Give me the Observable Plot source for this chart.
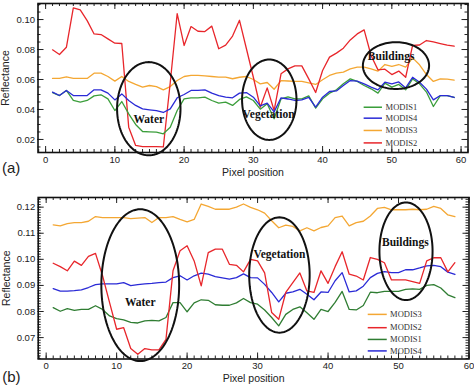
<!DOCTYPE html>
<html><head><meta charset="utf-8">
<script src="https://cdn.jsdelivr.net/npm/d3@7"></script>
<script src="https://cdn.jsdelivr.net/npm/@observablehq/plot@0.6"></script>
<style>
body{margin:0;background:#fff;}
#chart{width:474px;height:385px;overflow:hidden;}
#chart svg{display:block;}
</style></head><body><div id="chart"></div>
<script>
// ---------- DATA ----------
const pixelsA = d3.range(1, 60);   // pixel positions 1..59 (panel a)
const pixelsB = d3.range(1, 59);   // pixel positions 1..58 (panel b)

const modis1A = [0.0513,0.0493,0.0527,0.0460,0.0449,0.0460,0.0491,0.0498,0.0471,0.0393,0.0453,0.0371,0.0300,0.0253,0.0251,0.0249,0.0238,0.0282,0.0393,0.0471,0.0478,0.0478,0.0482,0.0460,0.0442,0.0449,0.0427,0.0467,0.0484,0.0460,0.0402,0.0438,0.0338,0.0471,0.0484,0.0471,0.0471,0.0491,0.0409,0.0471,0.0509,0.0531,0.0571,0.0604,0.0587,0.0560,0.0538,0.0509,0.0576,0.0549,0.0567,0.0531,0.0604,0.0571,0.0516,0.0420,0.0493,0.0493,0.0480];
const modis2A = [0.0798,0.0767,0.0815,0.1078,0.1065,0.0993,0.0904,0.0900,0.0871,0.0842,0.0840,0.0282,0.0160,0.0152,0.0152,0.0152,0.0150,0.0580,0.1040,0.0827,0.0953,0.0922,0.0920,0.0956,0.0805,0.0829,0.0890,0.0995,0.0805,0.0615,0.0415,0.0544,0.0393,0.0638,0.0671,0.0691,0.0691,0.0604,0.0513,0.0660,0.0749,0.0776,0.0809,0.0864,0.0904,0.0931,0.0760,0.0664,0.0669,0.0633,0.0656,0.0615,0.0827,0.0830,0.0860,0.0851,0.0840,0.0830,0.0822];
const modis3A = [0.0607,0.0607,0.0618,0.0607,0.0607,0.0607,0.0642,0.0642,0.0620,0.0589,0.0620,0.0587,0.0567,0.0549,0.0560,0.0553,0.0531,0.0553,0.0593,0.0620,0.0627,0.0627,0.0624,0.0620,0.0616,0.0616,0.0605,0.0615,0.0620,0.0600,0.0571,0.0580,0.0535,0.0593,0.0590,0.0587,0.0587,0.0578,0.0567,0.0598,0.0627,0.0642,0.0649,0.0671,0.0682,0.0682,0.0671,0.0656,0.0700,0.0687,0.0700,0.0682,0.0744,0.0698,0.0633,0.0587,0.0604,0.0602,0.0596];
const modis4A = [0.0516,0.0493,0.0527,0.0493,0.0493,0.0493,0.0531,0.0531,0.0509,0.0464,0.0504,0.0460,0.0427,0.0404,0.0398,0.0393,0.0380,0.0404,0.0478,0.0500,0.0527,0.0527,0.0531,0.0509,0.0493,0.0482,0.0478,0.0509,0.0513,0.0482,0.0424,0.0442,0.0384,0.0478,0.0470,0.0460,0.0464,0.0480,0.0416,0.0482,0.0520,0.0524,0.0560,0.0593,0.0589,0.0571,0.0549,0.0531,0.0582,0.0571,0.0584,0.0544,0.0615,0.0582,0.0536,0.0464,0.0493,0.0493,0.0480];

const modis1B = [0.0815,0.0801,0.0811,0.0804,0.0808,0.0808,0.0822,0.0808,0.0783,0.0773,0.0768,0.0758,0.0756,0.0764,0.0766,0.0764,0.0777,0.0834,0.0834,0.0799,0.0833,0.0845,0.0843,0.0826,0.0824,0.0824,0.0833,0.0850,0.0834,0.0828,0.0806,0.0777,0.0745,0.0789,0.0808,0.0818,0.0795,0.0770,0.0808,0.0800,0.0835,0.0877,0.0808,0.0806,0.0823,0.0874,0.0872,0.0877,0.0877,0.0877,0.0885,0.0887,0.0885,0.0900,0.0903,0.0890,0.0864,0.0853];
const modis2B = [0.0985,0.0972,0.0956,0.0993,0.0977,0.1011,0.1023,0.0937,0.0834,0.0732,0.0738,0.0658,0.0636,0.0658,0.0653,0.0653,0.0693,0.0956,0.1033,0.1052,0.0994,0.0898,0.1026,0.1039,0.1039,0.0981,0.0977,0.0952,0.1000,0.0994,0.0948,0.0796,0.0770,0.0873,0.0911,0.0948,0.0879,0.0873,0.0956,0.0908,0.0972,0.1029,0.0943,0.0936,0.0921,0.1007,0.1000,0.0987,0.0921,0.0921,0.0921,0.0915,0.0908,0.0994,0.1006,0.1006,0.0952,0.0987];
const modis3B = [0.1132,0.1128,0.1137,0.1141,0.1141,0.1146,0.1164,0.1160,0.1160,0.1160,0.1160,0.1156,0.1158,0.1160,0.1141,0.1160,0.1160,0.1164,0.1153,0.1144,0.1153,0.1212,0.1203,0.1192,0.1192,0.1192,0.1200,0.1212,0.1199,0.1190,0.1177,0.1148,0.1121,0.1131,0.1126,0.1109,0.1121,0.1109,0.1122,0.1128,0.1160,0.1166,0.1128,0.1141,0.1146,0.1166,0.1195,0.1199,0.1190,0.1190,0.1190,0.1192,0.1190,0.1192,0.1203,0.1195,0.1170,0.1164];
const modis4B = [0.0888,0.0878,0.0878,0.0880,0.0883,0.0892,0.0903,0.0906,0.0906,0.0906,0.0911,0.0899,0.0903,0.0906,0.0908,0.0911,0.0913,0.0930,0.0937,0.0921,0.0937,0.0947,0.0943,0.0934,0.0929,0.0924,0.0930,0.0944,0.0930,0.0929,0.0904,0.0873,0.0837,0.0870,0.0875,0.0885,0.0866,0.0845,0.0875,0.0873,0.0918,0.0949,0.0875,0.0879,0.0897,0.0930,0.0946,0.0953,0.0949,0.0949,0.0960,0.0960,0.0967,0.0975,0.0977,0.0972,0.0951,0.0942];

const xTicks = [0, 10, 20, 30, 40, 50, 60];
const yTicksA = [0.02, 0.04, 0.06, 0.08, 0.10];
const yTicksB = [0.07, 0.08, 0.09, 0.10, 0.11, 0.12];
const legendOrderA = ["MODIS1", "MODIS4", "MODIS3", "MODIS2"];
const legendOrderB = ["MODIS3", "MODIS2", "MODIS1", "MODIS4"];
const regionNames = ["Water", "Vegetation", "Buildings"];

// annotation ellipses (data units): centre, half-width, half-height, label position
const ellipsesA = [
  {cx: 14.9, cy: 0.0405, rx: 4.58, ry: 0.0311, lx: 14.9, ly: 0.0333},
  {cx: 32.3, cy: 0.0465, rx: 3.93, ry: 0.0268, lx: 32.2, ly: 0.0371},
  {cx: 50.6, cy: 0.0693, rx: 4.78, ry: 0.0156, lx: 49.9, ly: 0.0753}
];
const ellipsesB = [
  {cx: 13.35, cy: 0.0901, rx: 5.52, ry: 0.0291, lx: 13.35, ly: 0.0834},
  {cx: 33.1, cy: 0.0940, rx: 4.29, ry: 0.0221, lx: 33.1, ly: 0.1020},
  {cx: 51.06, cy: 0.1031, rx: 3.77, ry: 0.0187, lx: 50.96, ly: 0.1067}
];

// ---------- STYLE ----------
const colorsA = {MODIS1: "#3b9e3b", MODIS2: "#e8262b", MODIS3: "#f4a733", MODIS4: "#2a2ad6"};
const colorsB = {MODIS1: "#2f7d32", MODIS2: "#e8262b", MODIS3: "#f4a733", MODIS4: "#2a2ad6"};

function ellipsePoints(e) {
  return d3.range(0, 121).map(k => {
    const t = 2 * Math.PI * k / 120;
    return {x: e.cx + e.rx * Math.cos(t), y: e.cy + e.ry * Math.sin(t)};
  });
}

function panel(o) {
  const W = 474;
  const fw = W - o.ml - o.mr, fh = o.height - o.mt - o.mb;
  const inX = v => v >= o.xDomain[0] && v <= o.xDomain[1];
  const inY = v => v >= o.yDomain[0] && v <= o.yDomain[1];
  const xMinor = d3.range(-2, 63).filter(inX);
  const yMinor = d3.range(0, 200).map(i => +(i * o.yMinorStep).toFixed(4)).filter(inY);
  const tick = "#222";
  const marks = [
    Plot.ruleX(xMinor, {x: d => d, insetTop: fh - 3, stroke: tick}),
    Plot.ruleX(xMinor, {x: d => d, insetBottom: fh - 3, stroke: tick}),
    Plot.ruleX(xTicks.filter(inX), {x: d => d, insetTop: fh - 6, stroke: tick}),
    Plot.ruleX(xTicks.filter(inX), {x: d => d, insetBottom: fh - 6, stroke: tick}),
    Plot.ruleY(yMinor, {y: d => d, insetRight: fw - 3, stroke: tick}),
    Plot.ruleY(yMinor, {y: d => d, insetLeft: fw - 3, stroke: tick}),
    Plot.ruleY(o.yTicks, {y: d => d, insetRight: fw - 6, stroke: tick}),
    Plot.ruleY(o.yTicks, {y: d => d, insetLeft: fw - 6, stroke: tick}),
    Plot.axisX(xTicks, {tickSize: 0, tickPadding: o.xPad, label: null, fill: "#222"}),
    Plot.axisY(o.yTicks, {tickSize: 0, tickPadding: 3, label: null, tickFormat: d3.format(".2f"), fill: "#222"})
  ];
  for (const s of o.drawOrder) {
    const vals = o.values[s];
    marks.push(Plot.line(o.pixels.map((p, i) => ({x: p, y: vals[i]})), {x: "x", y: "y", stroke: o.colors[s], strokeWidth: 1.3}));
  }
  for (const e of o.ellipses) {
    marks.push(Plot.line(ellipsePoints(e), {x: "x", y: "y", stroke: "#111", strokeWidth: 2}));
  }
  marks.push(Plot.text(o.ellipses.map((e, i) => ({x: e.lx, y: e.ly, t: regionNames[i]})),
    {x: "x", y: "y", text: "t", fontFamily: "Liberation Serif, Times New Roman, serif", fontWeight: "bold", fontSize: 11.5, fill: "#111"}));
  // legend
  o.legendOrder.forEach((s, i) => {
    const ly = o.legend.y[i];
    marks.push(Plot.ruleY([ly], {y: d => d, x1: o.legend.x1, x2: o.legend.x2, stroke: o.colors[s], strokeWidth: 1.5}));
    marks.push(Plot.text([s], {x: o.legend.tx, y: ly, text: d => d, textAnchor: "start", fontFamily: "Liberation Serif, Times New Roman, serif", fontSize: 8.5, fill: "#333"}));
  });
  marks.push(Plot.text(["Reflectance"], {text: d => d, frameAnchor: "left", rotate: -90, dx: -32, textAnchor: "middle", lineAnchor: "middle", fontSize: 10.5, fill: "#222"}));
  marks.push(Plot.text(["Pixel position"], {text: d => d, frameAnchor: "bottom", dy: o.xLabelDy, textAnchor: "middle", lineAnchor: "middle", fontSize: 10.5, fill: "#222"}));
  marks.push(Plot.text([o.letter], {text: d => d, frameAnchor: "bottom-left", dx: -36, dy: o.letterDy, textAnchor: "start", lineAnchor: "middle", fontSize: 15, fill: "#222"}));
  marks.push(Plot.frame({stroke: "#111", strokeWidth: 1.6}));
  return Plot.plot({
    width: W, height: o.height,
    marginTop: o.mt, marginRight: o.mr, marginBottom: o.mb, marginLeft: o.ml,
    x: {domain: o.xDomain},
    y: {domain: o.yDomain},
    style: {fontFamily: "Liberation Sans, Arial, sans-serif", fontSize: "9.5px", background: "#fff", color: "#222", overflow: "visible"},
    marks
  });
}

const chartA = panel({
  height: 185, mt: 3, mr: 6.5, mb: 33, ml: 37.5,
  xDomain: [-1.1, 61], yDomain: [0.0113, 0.1107],
  yTicks: yTicksA, yMinorStep: 0.005, xPad: 4,
  pixels: pixelsA,
  values: {MODIS1: modis1A, MODIS2: modis2A, MODIS3: modis3A, MODIS4: modis4A},
  drawOrder: ["MODIS3", "MODIS2", "MODIS1", "MODIS4"],
  colors: colorsA, legendOrder: legendOrderA,
  legend: {x1: 46.0, x2: 48.65, tx: 49.1, y: [0.0415, 0.0342, 0.0260, 0.0177]},
  ellipses: ellipsesA, letter: "(a)", letterDy: 16, xLabelDy: 19.7
});
const chartB = panel({
  height: 200, mt: 12, mr: 5.5, mb: 26.5, ml: 37.7,
  xDomain: [-1.13, 60], yDomain: [0.0618, 0.1237],
  yTicks: yTicksB, yMinorStep: 0.001, xPad: 3,
  pixels: pixelsB,
  values: {MODIS1: modis1B, MODIS2: modis2B, MODIS3: modis3B, MODIS4: modis4B},
  drawOrder: ["MODIS3", "MODIS1", "MODIS4", "MODIS2"],
  colors: colorsB, legendOrder: legendOrderB,
  legend: {x1: 45.7, x2: 48.4, tx: 48.8, y: [0.0789, 0.0738, 0.0693, 0.0649]},
  ellipses: ellipsesB, letter: "(b)", letterDy: 18.5, xLabelDy: 19.2
});
document.getElementById("chart").append(chartA, chartB);
</script></body></html>
